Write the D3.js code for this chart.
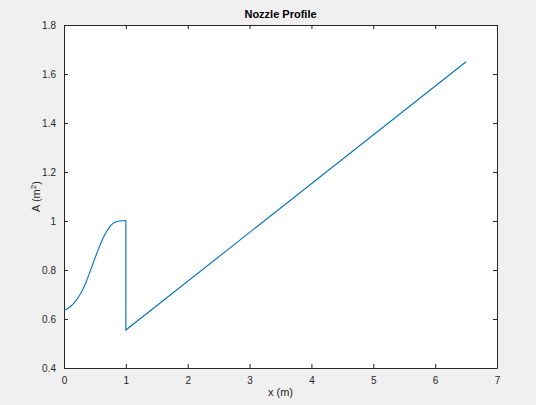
<!DOCTYPE html>
<html lang="en">
<head>
<meta charset="UTF-8">
<title>Nozzle Profile</title>
<script src="https://d3js.org/d3.v7.min.js"></script>
<style>
  body { margin: 0; background: #f0f0f0; }
  svg { display: block; font-family: "Liberation Sans", Arial, sans-serif; }
</style>
</head>
<body>
<script>
// nozzle area profile
var xs = [0, 0.05, 0.1, 0.15, 0.2, 0.25, 0.3, 0.35, 0.4, 0.45, 0.5, 0.55, 0.6, 0.65, 0.7, 0.75, 0.8, 0.85, 0.9, 0.95, 1.0, 1.0, 6.5];
var areas = [0.636, 0.641, 0.650, 0.662, 0.677, 0.696, 0.718, 0.746, 0.779, 0.813, 0.848, 0.881, 0.912, 0.940, 0.962, 0.980, 0.992, 0.998, 1.000, 1.001, 1.002, 0.555, 1.65];
var xTicks = [0, 1, 2, 3, 4, 5, 6, 7];
var yTicks = [0.4, 0.6, 0.8, 1, 1.2, 1.4, 1.6, 1.8];

var width = 536, height = 405;
// plot box (note: "top" is taken by window.top)
var boxL = 64, boxR = 497, boxT = 25, boxB = 368;

var svg = d3.select("body").append("svg")
    .attr("width", width)
    .attr("height", height);

svg.append("rect")
    .attr("width", width).attr("height", height)
    .attr("fill", "#f0f0f0");

var xScale = d3.scaleLinear().domain([0, 7]).range([boxL, boxR]);
var yScale = d3.scaleLinear().domain([0.4, 1.8]).range([boxB, boxT]);

svg.append("rect")
    .attr("x", boxL).attr("y", boxT)
    .attr("width", boxR - boxL).attr("height", boxB - boxT)
    .attr("fill", "white");

var fmt = d3.format("~g");

// axes, ticks pointing inward like matlab
svg.append("g")
    .attr("transform", "translate(0," + boxB + ")")
    .call(d3.axisBottom(xScale).tickValues(xTicks).tickFormat(fmt).tickSizeInner(-4).tickSizeOuter(0).tickPadding(9));
svg.append("g")
    .attr("transform", "translate(0," + boxT + ")")
    .call(d3.axisTop(xScale).tickValues(xTicks).tickFormat("").tickSizeInner(-4).tickSizeOuter(0));
svg.append("g")
    .attr("transform", "translate(" + boxL + ",0)")
    .call(d3.axisLeft(yScale).tickValues(yTicks).tickFormat(fmt).tickSizeInner(-4).tickSizeOuter(0).tickPadding(8));
svg.append("g")
    .attr("transform", "translate(" + boxR + ",0)")
    .call(d3.axisRight(yScale).tickValues(yTicks).tickFormat("").tickSizeInner(-4).tickSizeOuter(0));

svg.selectAll(".domain").attr("stroke", "#262626").attr("stroke-width", 1);
svg.selectAll(".tick line").attr("stroke", "#262626");
svg.selectAll(".tick text").attr("fill", "#262626").style("font-size", "10px");

// data line
var pts = xs.map(function (x, i) { return [x, areas[i]]; });
var line = d3.line()
    .x(function (d) { return xScale(d[0]); })
    .y(function (d) { return yScale(d[1]); });

svg.append("path")
    .datum(pts)
    .attr("d", line)
    .attr("fill", "none")
    .attr("stroke", "#0072bd")
    .attr("stroke-width", 1.1);

// title and labels
svg.append("text")
    .attr("x", (boxL + boxR) / 2).attr("y", 18)
    .attr("text-anchor", "middle")
    .attr("font-weight", "bold")
    .attr("font-size", "11px")
    .attr("fill", "black")
    .text("Nozzle Profile");

svg.append("text")
    .attr("x", (boxL + boxR) / 2).attr("y", 396)
    .attr("text-anchor", "middle")
    .attr("font-size", "11px")
    .attr("fill", "#262626")
    .text("x (m)");

var yl = svg.append("text")
    .attr("transform", "translate(40," + ((boxT + boxB) / 2) + ") rotate(-90)")
    .attr("text-anchor", "middle")
    .attr("font-size", "11px")
    .attr("fill", "#262626");
yl.append("tspan").text("A (m");
yl.append("tspan").attr("dy", -4).attr("font-size", "8px").text("2");
yl.append("tspan").attr("dy", 4).text(")");
</script>
</body>
</html>
